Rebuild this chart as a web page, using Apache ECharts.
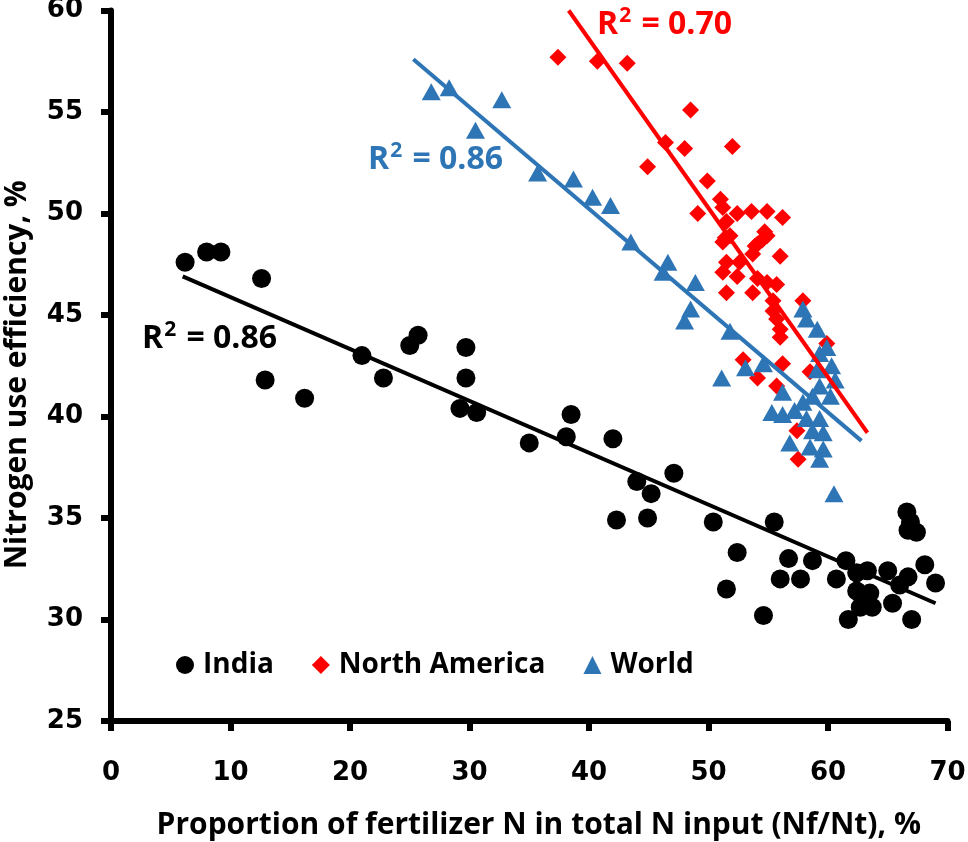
<!DOCTYPE html>
<html>
<head>
<meta charset="utf-8">
<script src="https://cdn.jsdelivr.net/npm/echarts@6/dist/echarts.min.js"></script>
<style>
html,body{margin:0;padding:0;background:#fff;}
#chart{width:968px;height:842px;}
</style>
</head>
<body>
<div id="chart"></div>
<script>
// ---- Data ----
const xTicks = [0, 10, 20, 30, 40, 50, 60, 70];
const yTicks = [25, 30, 35, 40, 45, 50, 55, 60];

const india = [
  [6.2,47.6],[8.0,48.1],[9.2,48.1],[12.6,46.8],[12.9,41.8],[16.2,40.9],[21.0,43.0],[22.8,41.9],
  [25.0,43.5],[25.7,44.0],[29.7,43.4],[29.7,41.9],[29.2,40.4],[30.6,40.2],[35.0,38.7],[38.1,39.0],
  [38.5,40.1],[42.0,38.9],[42.3,34.9],[44.0,36.8],[45.2,36.2],[44.9,35.0],[47.1,37.2],[50.4,34.8],
  [55.5,34.8],[52.4,33.3],[51.5,31.5],[54.6,30.2],[56.7,33.0],[58.7,32.9],[56.0,32.0],[57.7,32.0],
  [61.5,32.9],[60.7,32.0],[63.3,32.4],[65.0,32.4],[68.1,32.7],[69.0,31.8],[66.7,32.1],[66.0,31.7],
  [62.4,31.4],[63.5,31.3],[62.7,30.6],[63.7,30.6],[65.4,30.8],[61.7,30.0],[67.0,30.0],[66.6,35.3],
  [66.9,34.8],[67.4,34.3],[66.7,34.4],[62.4,32.3]
];
const northAmerica = [
  [37.4,57.7],[40.7,57.5],[43.2,57.4],[48.5,55.1],[46.4,53.5],[48.0,53.2],[52.0,53.3],[44.9,52.3],
  [49.9,51.6],[49.1,50.0],[51.0,50.7],[51.2,50.3],[52.4,50.0],[53.6,50.1],[54.9,50.1],[56.2,49.8],
  [54.7,49.1],[54.5,48.7],[51.4,48.8],[51.5,49.6],[53.9,48.4],[51.2,48.6],[51.8,48.9],[54.1,48.5],
  [54.9,48.9],[53.7,48.0],[56.0,47.9],[51.5,47.6],[52.6,47.6],[51.2,47.1],[52.4,46.9],[54.1,46.8],
  [54.9,46.6],[55.7,46.5],[51.5,46.1],[53.7,46.1],[55.4,45.7],[57.9,45.7],[55.4,45.2],[55.7,44.8],
  [56.0,44.3],[56.0,43.9],[52.9,42.8],[54.1,41.9],[56.2,42.6],[55.7,41.5],[58.5,42.2],[59.9,43.6],
  [57.4,39.3],[57.5,37.9]
];
const world = [
  [26.8,56.0],[28.3,56.2],[32.7,55.6],[30.5,54.1],[35.7,52.0],[38.7,51.7],[40.3,50.8],[41.8,50.4],
  [43.5,48.6],[46.2,47.1],[46.6,47.6],[48.9,46.6],[48.5,45.3],[48.0,44.7],[51.8,44.2],[51.1,41.9],
  [53.1,42.4],[54.6,42.6],[57.9,45.3],[58.2,44.8],[59.1,44.3],[59.9,43.4],[59.3,43.1],[60.3,42.5],
  [60.6,41.8],[59.1,42.3],[56.2,41.2],[55.3,40.2],[56.2,40.1],[57.2,40.3],[58.7,41.0],[59.3,41.5],
  [58.2,39.9],[59.3,39.9],[58.7,39.3],[59.6,39.2],[56.8,38.7],[58.5,38.5],[59.6,38.4],[59.3,37.9],
  [60.5,36.2],[60.2,41.0],[57.9,40.7]
];
// Linear trend lines (endpoints)
const indiaTrend = [[6.0,46.9],[69.0,30.8]];
const naTrend = [[38.3,60.0],[63.3,39.2]];
const worldTrend = [[25.3,57.6],[62.8,38.8]];
const r2Labels = ['0.86', '0.70', '0.86']; // India, North America, World

const BLACK = '#000000', RED = '#FF0000', BLUE = '#2E75B6';
const FONT = 'Open Sans';
const TICKFONT = 'DejaVu Sans';

const chart = echarts.init(document.getElementById('chart'), null, {renderer: 'canvas'});

function r2Text(val, color, x, y) {
  return {
    type: 'text', x: x, y: y, z: 100,
    style: {
      text: '{r|R}{s|2}{r| = ' + val + '}',
      fill: color,
      rich: {
        r: {fontFamily: FONT, fontWeight: 'bold', fontSize: 32, fill: color, lineHeight: 38},
        s: {fontFamily: FONT, fontWeight: 'bold', fontSize: 21, fill: color, verticalAlign: 'top', lineHeight: 38, padding: [0, 2, 0, 1]}
      }
    }
  };
}

const option = {
  backgroundColor: '#fff',
  animation: false,
  grid: {left: 111, right: 20.5, top: 10.5, bottom: 121, containLabel: false, outerBoundsMode: 'none'},
  xAxis: {
    type: 'value', min: xTicks[0], max: xTicks[xTicks.length - 1], interval: 10,
    name: 'Proportion of fertilizer N in total N input (Nf/Nt), %',
    nameLocation: 'middle', nameGap: 89,
    nameTextStyle: {fontFamily: FONT, fontWeight: 'bold', fontSize: 30, color: '#000', padding: [0, 0, 0, 19]},
    axisLine: {show: true, onZero: false, lineStyle: {color: '#000', width: 6}},
    axisTick: {show: true, length: 10, lineStyle: {color: '#000', width: 6}},
    axisLabel: {margin: 39, fontFamily: TICKFONT, fontWeight: 'bold', fontSize: 26, color: '#000'},
    splitLine: {show: false}
  },
  yAxis: {
    type: 'value', min: yTicks[0], max: yTicks[yTicks.length - 1], interval: 5,
    name: 'Nitrogen use efficiency, %',
    nameLocation: 'middle', nameGap: 79, nameRotate: 90,
    nameTextStyle: {fontFamily: FONT, fontWeight: 'bold', fontSize: 30, color: '#000', padding: [0, 18, 0, 0]},
    axisLine: {show: true, onZero: false, lineStyle: {color: '#000', width: 6}},
    axisTick: {show: true, length: 10, lineStyle: {color: '#000', width: 6}},
    axisLabel: {margin: 28, fontFamily: TICKFONT, fontWeight: 'bold', fontSize: 26, color: '#000'},
    splitLine: {show: false}
  },
  legend: {
    left: 171, top: 646, itemWidth: 18, itemHeight: 18, itemGap: 38,
    textStyle: {fontFamily: FONT, fontWeight: 'bold', fontSize: 28, color: '#000', padding: [0, 0, 0, 4]},
    data: [
      {name: 'India', icon: 'circle'},
      {name: 'North America', icon: 'diamond'},
      {name: 'World', icon: 'triangle'}
    ]
  },
  series: [
    {name: 'India', type: 'scatter', data: india, symbol: 'circle', symbolSize: 19,
      itemStyle: {color: BLACK, opacity: 1}, z: 2},
    {name: 'North America', type: 'scatter', data: northAmerica, symbol: 'diamond', symbolSize: [17, 17],
      itemStyle: {color: RED, opacity: 1}, z: 3},
    {name: 'World', type: 'scatter', data: world, symbol: 'triangle', symbolSize: [19, 17],
      itemStyle: {color: BLUE, opacity: 1}, z: 4},
    {name: 'India trend', type: 'line', data: indiaTrend, symbol: 'none', silent: true,
      lineStyle: {color: BLACK, width: 4}, z: 5},
    {name: 'North America trend', type: 'line', data: naTrend, symbol: 'none', silent: true, clip: false,
      lineStyle: {color: RED, width: 4}, z: 6},
    {name: 'World trend', type: 'line', data: worldTrend, symbol: 'none', silent: true,
      lineStyle: {color: BLUE, width: 4}, z: 6}
  ],
  graphic: [
    r2Text(r2Labels[0], BLACK, 142, 320),
    r2Text(r2Labels[1], RED, 597, 6),
    r2Text(r2Labels[2], BLUE, 368, 141)
  ]
};
chart.setOption(option);
</script>
</body>
</html>
